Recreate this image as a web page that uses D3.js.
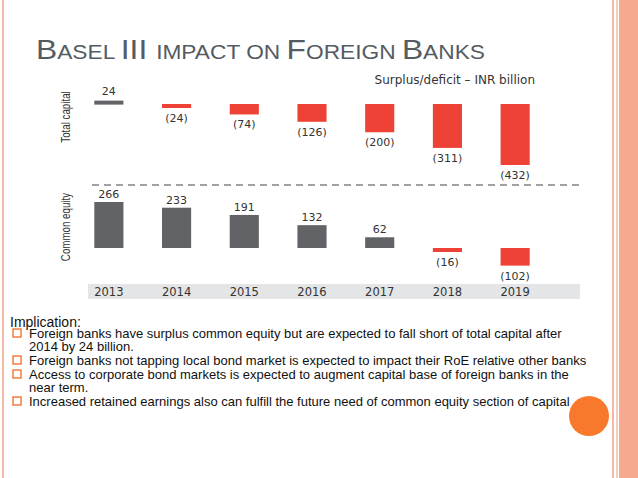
<!DOCTYPE html><html><head><meta charset="utf-8">
<script src="https://cdn.jsdelivr.net/npm/d3@7"></script>
<style>body{margin:0;background:#fff}svg{display:block}</style></head><body>
<svg id="c" width="638" height="478"></svg>
<script>
const years=["2013","2014","2015","2016","2017","2018","2019"];
const totalCapital=[24,-24,-74,-126,-200,-311,-432];
const commonEquity=[266,233,191,132,62,-16,-102];
const bullets=[
 ["Foreign banks have surplus common equity but are expected  to fall short of total capital after","2014 by 24 billion."],
 [" Foreign banks not tapping local bond market is expected to impact their RoE relative other banks"],
 ["Access to corporate bond markets is expected to augment capital base of foreign banks in the","near term."],
 ["Increased retained  earnings also can fulfill the future need of common equity section of capital"]];
const svg=d3.select("#c");
svg.append("rect").attr("x",2).attr("y",0).attr("width",2).attr("height",478).attr("fill","#f4b9a7");
svg.append("rect").attr("x",612).attr("y",0).attr("width",2).attr("height",478).attr("fill","#f4b9a7");
svg.append("rect").attr("x",619).attr("y",0).attr("width",19).attr("height",478).attr("fill","#f7a98f");
svg.append("rect").attr("x",616).attr("y",0).attr("width",2).attr("height",478).attr("fill","#f9cbbd");
svg.append("circle").attr("cx",589).attr("cy",416).attr("r",20).attr("fill","#f9792c");
const t=svg.append("text").attr("x",36).attr("y",59).attr("fill","#555b62").attr("font-family","Liberation Sans, Arial").attr("font-size",28).attr("textLength",449).attr("lengthAdjust","spacingAndGlyphs");
[["B",28],["ASEL ",20],["III ",28],["IMPACT ON ",20],["F",28],["OREIGN ",20],["B",28],["ANKS",20]].forEach(([s,f])=>t.append("tspan").attr("font-size",f).text(s));
const x=d3.scaleBand().domain(years).range([74,550]).paddingInner(0.57).paddingOuter(0.3);
const yT=d3.scaleLinear().domain([0,-432]).range([104,165]);
const yC=d3.scaleLinear().domain([0,266]).range([248,202]);
const red="#ee4237",grey="#626366";
const lf="DejaVu Sans",ls=11;
svg.selectAll(".t").data(totalCapital).join("rect").attr("x",(d,i)=>x(years[i])).attr("width",x.bandwidth())
 .attr("y",d=>Math.min(yT(d),yT(0))).attr("height",d=>Math.max(4,Math.abs(yT(d)-yT(0)))).attr("fill",d=>d>0?grey:red);
svg.selectAll(".tl").data(totalCapital).join("text").attr("x",(d,i)=>x(years[i])+x.bandwidth()/2)
 .attr("y",d=>d>0?yT(d)-6:Math.max(yT(d),yT(0)+4)+14).attr("text-anchor","middle").attr("font-family",lf).attr("font-size",ls).attr("fill","#333")
 .text(d=>d>0?d:"("+(-d)+")");
svg.selectAll(".c").data(commonEquity).join("rect").attr("x",(d,i)=>x(years[i])).attr("width",x.bandwidth())
 .attr("y",d=>Math.min(yC(d),yC(0))).attr("height",d=>Math.max(4,Math.abs(yC(d)-yC(0)))).attr("fill",d=>d>0?grey:red);
svg.selectAll(".cl").data(commonEquity).join("text").attr("x",(d,i)=>x(years[i])+x.bandwidth()/2)
 .attr("y",d=>d>0?yC(d)-4:Math.max(yC(d),yC(0)+4)+14).attr("text-anchor","middle").attr("font-family",lf).attr("font-size",ls).attr("fill","#333")
 .text(d=>d>0?d:"("+(-d)+")");
svg.append("line").attr("x1",92).attr("x2",580).attr("y1",185).attr("y2",185).attr("stroke","#444").attr("stroke-width",1.2).attr("stroke-dasharray","7,5");
svg.append("rect").attr("x",88).attr("y",284).attr("width",492).attr("height",15).attr("fill","#e4e5e6");
svg.selectAll(".yr").data(years).join("text").attr("x",d=>x(d)+x.bandwidth()/2).attr("y",296).attr("text-anchor","middle")
 .attr("font-family",lf).attr("font-size",11.5).attr("fill","#333").text(d=>d);
svg.append("text").attr("transform","translate(70,117) rotate(-90) scale(0.75,1)").attr("text-anchor","middle").attr("font-family","Liberation Sans").attr("font-size",13).attr("fill","#333").text("Total capital");
svg.append("text").attr("transform","translate(70,227) rotate(-90) scale(0.75,1)").attr("text-anchor","middle").attr("font-family","Liberation Sans").attr("font-size",13).attr("fill","#333").text("Common equity");
svg.append("text").attr("x",535).attr("y",84).attr("text-anchor","end").attr("font-family",lf).attr("font-size",12).attr("fill","#333").text("Surplus/deficit – INR billion");
svg.append("text").attr("x",10).attr("y",327).attr("font-family","Liberation Sans").attr("font-size",14).attr("fill","#111").text("Implication:");
let yy=338;
bullets.forEach(b=>{
 svg.append("rect").attr("x",13).attr("y",yy-9).attr("width",8).attr("height",8).attr("fill","none").attr("stroke","#f26b21").attr("stroke-width",1.3);
 b.forEach((l,j)=>{svg.append("text").attr("x",29).attr("y",yy+j*13).attr("font-family","Liberation Sans").attr("font-size",13).attr("fill","#111").text(l);});
 yy+=b.length*13+1;
});
</script></body></html>
